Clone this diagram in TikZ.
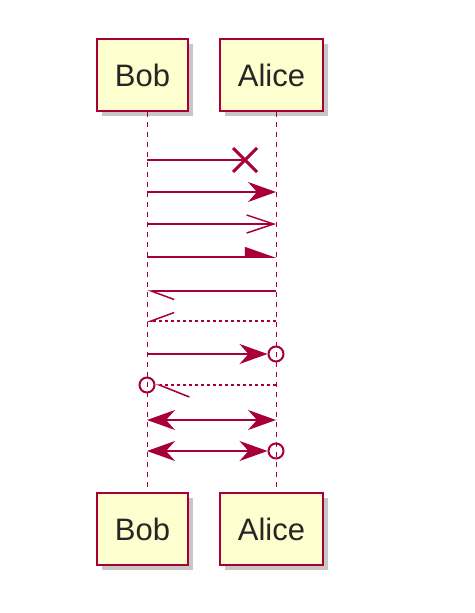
\documentclass[tikz,border=0pt]{standalone}
\usepackage{fontspec}
\setmainfont{Liberation Sans}
\usetikzlibrary{arrows.meta,shadows,shapes.misc}
\definecolor{puline}{HTML}{A80036}
\definecolor{pufill}{HTML}{FEFECE}
\begin{document}
\begin{tikzpicture}[x=1pt,y=-1pt,
  actor/.style={draw=puline, line width=1.8pt, fill=pufill, minimum height=72pt,
    inner sep=0pt, font=\fontsize{31}{31}\selectfont, text=black!85,
    drop shadow={shadow xshift=5pt, shadow yshift=-5pt, fill=black, opacity=0.22}},
  lifeline/.style={draw=puline, line width=1pt, dash pattern=on 5pt off 5pt},
  msg/.style={draw=puline, line width=1.5pt},
  dmsg/.style={msg, dash pattern=on 3pt off 3pt},
  ring/.style={circle, draw=puline, line width=2pt, minimum size=15pt, inner sep=0pt},
  xmark/.style={cross out, draw=puline, line width=3pt, minimum size=21pt, inner sep=0pt},
  tipS/.style={-{Stealth[length=28pt, width=20pt, inset=9pt]}},
  tipSS/.style={{Stealth[length=28pt, width=20pt, inset=9pt]}-{Stealth[length=28pt, width=20pt, inset=9pt]}},
  tipO/.style={-{Straight Barb[length=27pt, width=18pt]}},
  tipH/.style={-{Triangle[harpoon, length=29pt, width=20pt]}},
  tipHO/.style={-{Straight Barb[harpoon, length=23pt, width=17pt]}},
  tipHOs/.style={-{Straight Barb[harpoon, swap, length=23pt, width=17pt]}},
  tipHO8/.style={-{Straight Barb[harpoon, length=30pt, width=24pt]}}
]
\useasboundingbox (0,0) rectangle (474,613);

% participants
\node[actor, minimum width=91pt]  (bobT)   at (142.5,75)  {Bob};
\node[actor, minimum width=103pt] (aliceT) at (271.5,75)  {Alice};
\node[actor, minimum width=91pt]  (bobB)   at (142.5,529) {Bob};
\node[actor, minimum width=103pt] (aliceB) at (271.5,529) {Alice};

% lifeline ends
\coordinate (bs) at (147,112);
\coordinate (be) at (147,492);
\coordinate (as) at (276,112);
\coordinate (ae) at (276,492);
\draw[lifeline] (bs) -- (be);
\draw[lifeline] (as) -- (ae);

% message rows
\foreach \i/\y in {1/160,2/192,3/224,4/257,5/291,6/321,7/354,8/385,9/420,10/451}{
  \coordinate (b\i) at (147,\y);
  \coordinate (a\i) at (276,\y);
}

% 1: lost message with cross
\node[xmark] (x1) at (245,160) {};
\draw[msg] (b1) -- (x1.center);
% 2: filled arrow
\draw[msg, tipS] (b2) -- (a2);
% 3: open arrow
\draw[msg, tipO] (b3) -- (a3);
% 4: half filled arrow
\draw[msg, tipH] (b4) -- (a4);
% 5: half open arrow back
\draw[msg, tipHO] (a5) -- (b5);
% 6: dashed half open arrow back
\draw[dmsg, tipHOs] (a6) -- (b6);
% 7: arrow to circle
\node[ring] (c7) at (a7) {};
\draw[msg, tipS] (b7) -- (c7.west);
% 8: dashed to circle with half barb
\node[ring] (c8) at (b8) {};
\draw[dmsg, tipHO8] (a8) -- (c8.east);
% 9: double arrow
\draw[msg, tipSS] (b9) -- (a9);
% 10: double arrow with circle
\node[ring] (c10) at (a10) {};
\draw[msg, tipSS] (b10) -- (c10.west);
\end{tikzpicture}
\end{document}
